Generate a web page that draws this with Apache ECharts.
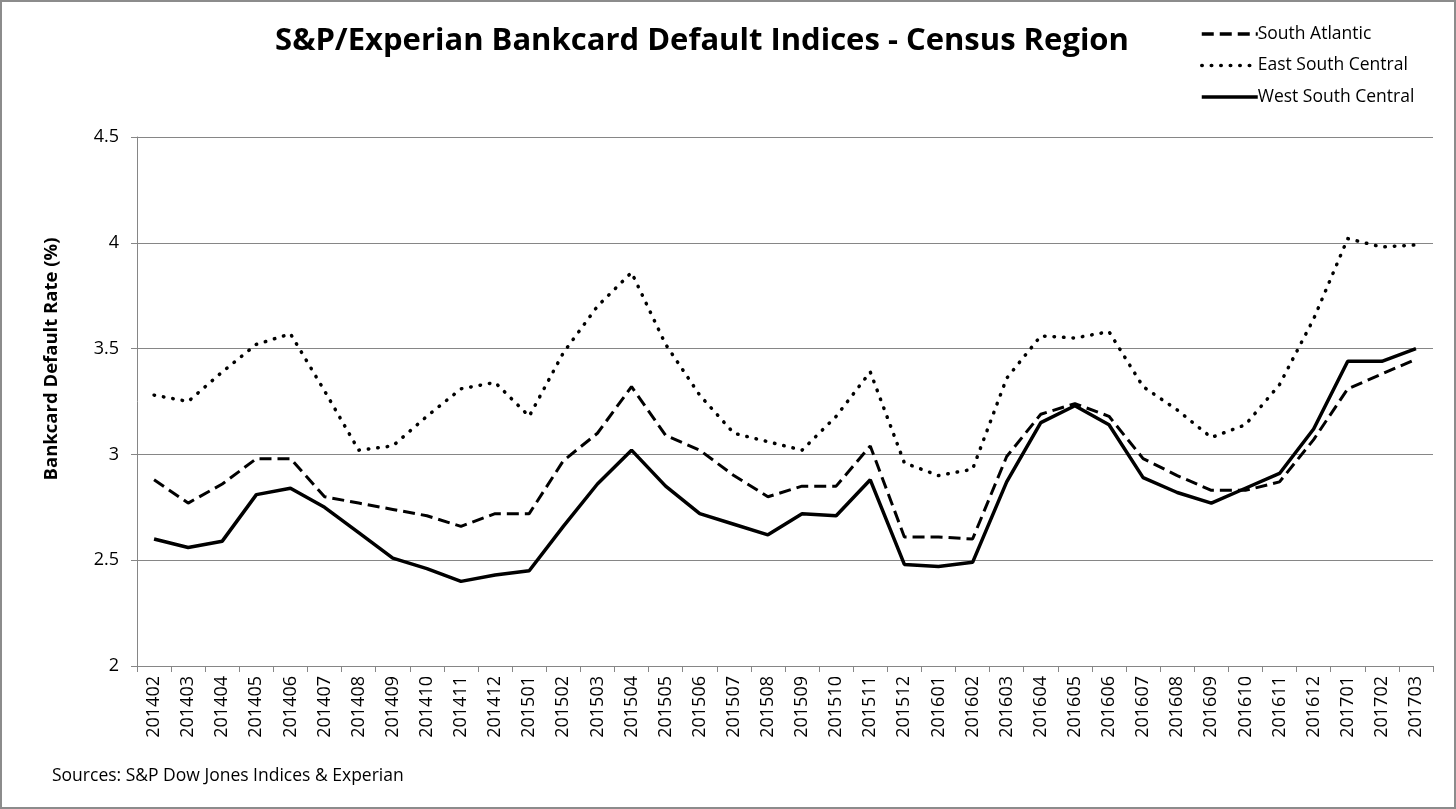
<!DOCTYPE html>
<html><head><meta charset="utf-8">
<script src="https://cdn.jsdelivr.net/npm/echarts@6/dist/echarts.min.js"></script>
<style>
html,body{margin:0;padding:0;background:#fff;}
#wrap{width:1456px;height:809px;box-sizing:border-box;border:2px solid #8c8c8c;position:relative;}
#c{position:absolute;left:-2px;top:-2px;width:1456px;height:809px;}
</style></head>
<body><div id="wrap"><div id="c"></div></div>
<script>
const categories = ['201402','201403','201404','201405','201406','201407','201408','201409','201410','201411','201412','201501','201502','201503','201504','201505','201506','201507','201508','201509','201510','201511','201512','201601','201602','201603','201604','201605','201606','201607','201608','201609','201610','201611','201612','201701','201702','201703'];
const southAtlantic = [2.88,2.77,2.86,2.98,2.98,2.80,2.77,2.74,2.71,2.66,2.72,2.72,2.97,3.10,3.32,3.09,3.02,2.90,2.80,2.85,2.85,3.04,2.61,2.61,2.60,2.99,3.19,3.24,3.18,2.98,2.90,2.83,2.83,2.87,3.07,3.31,3.38,3.45];
const eastSouthCentral = [3.28,3.25,3.39,3.52,3.57,3.30,3.02,3.04,3.18,3.31,3.34,3.18,3.48,3.70,3.86,3.52,3.28,3.10,3.06,3.02,3.18,3.39,2.96,2.90,2.93,3.36,3.56,3.55,3.58,3.32,3.21,3.08,3.14,3.33,3.64,4.02,3.98,3.99];
const westSouthCentral = [2.60,2.56,2.59,2.81,2.84,2.75,2.63,2.51,2.46,2.40,2.43,2.45,2.66,2.86,3.02,2.85,2.72,2.67,2.62,2.72,2.71,2.88,2.48,2.47,2.49,2.87,3.15,3.23,3.14,2.89,2.82,2.77,2.84,2.91,3.12,3.44,3.44,3.50];
const yTicks = {min:2, max:4.5, interval:0.5};
const FONT = '"Open Sans", "Liberation Sans", sans-serif';

const chart = echarts.init(document.getElementById('c'), null, {renderer:'canvas'});
chart.setOption({
  backgroundColor:'transparent',
  animation:false,
  title:{
    text:'S&P/Experian Bankcard Default Indices - Census Region',
    left:697, top:21, textAlign:'center',
    textStyle:{fontFamily:FONT, fontWeight:'bold', fontSize:31, color:'#000'}
  },
  legend:{
    orient:'vertical', left:1195, top:20, itemGap:13.5,
    itemWidth:56, itemHeight:20,
    itemStyle:{opacity:0},
    lineStyle:{width:3.5},
    textStyle:{fontFamily:FONT, fontSize:17.5, color:'#000', padding:[0,0,0,-5]},
    data:['South Atlantic','East South Central','West South Central']
  },
  graphic:[{
    type:'text', left:52, top:767,
    style:{text:'Sources: S&P Dow Jones Indices & Experian', font:'17.5px '+FONT, fill:'#000'}
  },{
    type:'text', x:52, y:359, rotation:Math.PI/2,
    style:{text:'Bankcard Default Rate (%)', font:'bold 18.5px '+FONT, fill:'#000', align:'center', verticalAlign:'middle'}
  }],
  grid:{left:137, right:23, top:137, bottom:143, containLabel:false},
  xAxis:{
    type:'category', data:categories, boundaryGap:true,
    axisLine:{lineStyle:{color:'#868686', width:1}},
    axisTick:{show:true, alignWithLabel:false, length:6, lineStyle:{color:'#868686'}},
    axisLabel:{rotate:90, fontFamily:FONT, fontSize:18, color:'#000', margin:10, interval:0},
    splitLine:{show:false}
  },
  yAxis:{
    type:'value', min:yTicks.min, max:yTicks.max, interval:yTicks.interval,
    axisLine:{show:true, lineStyle:{color:'#868686', width:1}},
    axisTick:{show:true, length:6, lineStyle:{color:'#868686'}},
    axisLabel:{fontFamily:FONT, fontSize:18, color:'#000', margin:18},
    splitLine:{show:true, lineStyle:{color:'#868686', width:1}}
  },
  series:[
    {name:'South Atlantic', type:'line', data:southAtlantic, symbol:'none', smooth:false,
     itemStyle:{color:'#000'},
     lineStyle:{color:'#000', width:3, type:[12,6]}},
    {name:'East South Central', type:'line', data:eastSouthCentral, symbol:'none',
     itemStyle:{color:'#000'},
     lineStyle:{color:'#000', width:3.5, type:[0.5,9], cap:'round'}},
    {name:'West South Central', type:'line', data:westSouthCentral, symbol:'none',
     itemStyle:{color:'#000'},
     lineStyle:{color:'#000', width:3.5, type:'solid'}}
  ]
});
</script></body></html>
